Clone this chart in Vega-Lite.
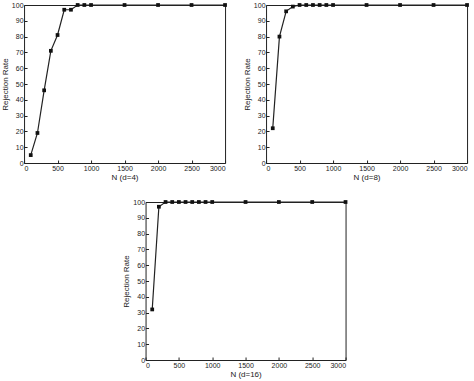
{
  "$schema": "https://vega.github.io/schema/vega-lite/v6.json",
  "padding": {"left": 0, "top": 0, "right": 0, "bottom": 0},
  "background": "white",
  "datasets": {
    "d4": [
      {"N": 100, "rate": 5}, {"N": 200, "rate": 19}, {"N": 300, "rate": 46}, {"N": 400, "rate": 71},
      {"N": 500, "rate": 81}, {"N": 600, "rate": 97}, {"N": 700, "rate": 97}, {"N": 800, "rate": 100},
      {"N": 900, "rate": 100}, {"N": 1000, "rate": 100}, {"N": 1500, "rate": 100}, {"N": 2000, "rate": 100},
      {"N": 2500, "rate": 100}, {"N": 3000, "rate": 100}
    ],
    "d8": [
      {"N": 100, "rate": 22}, {"N": 200, "rate": 80}, {"N": 300, "rate": 96}, {"N": 400, "rate": 99},
      {"N": 500, "rate": 100}, {"N": 600, "rate": 100}, {"N": 700, "rate": 100}, {"N": 800, "rate": 100},
      {"N": 900, "rate": 100}, {"N": 1000, "rate": 100}, {"N": 1500, "rate": 100}, {"N": 2000, "rate": 100},
      {"N": 2500, "rate": 100}, {"N": 3000, "rate": 100}
    ],
    "d16": [
      {"N": 100, "rate": 32}, {"N": 200, "rate": 97}, {"N": 300, "rate": 100}, {"N": 400, "rate": 100},
      {"N": 500, "rate": 100}, {"N": 600, "rate": 100}, {"N": 700, "rate": 100}, {"N": 800, "rate": 100},
      {"N": 900, "rate": 100}, {"N": 1000, "rate": 100}, {"N": 1500, "rate": 100}, {"N": 2000, "rate": 100},
      {"N": 2500, "rate": 100}, {"N": 3000, "rate": 100}
    ]
  },
  "config": {
    "view": {"stroke": "#222", "strokeWidth": 1},
    "font": "Liberation Sans",
    "axis": {
      "grid": false, "domain": false, "tickSize": -3, "tickColor": "#222",
      "labelFontSize": 7, "labelColor": "#222", "titleFontSize": 8, "titleFontWeight": "normal",
      "titleColor": "#222", "labelPadding": 4, "format": "d", "titlePadding": 2
    }
  },
  "vconcat": [
    {
      "hconcat": [
        {
          "width": 201, "height": 158,
          "data": {"name": "d4"},
          "layer": [
            {"mark": {"type": "line", "color": "#222", "strokeWidth": 1.2}},
            {"mark": {"type": "point", "shape": "square", "filled": true, "color": "#111", "size": 14, "opacity": 1}}
          ],
          "encoding": {
            "x": {"field": "N", "type": "quantitative", "title": "N (d=4)", "scale": {"domain": [0, 3000], "nice": false},
                  "axis": {"values": [0, 500, 1000, 1500, 2000, 2500, 3000]}},
            "y": {"field": "rate", "type": "quantitative", "title": "Rejection Rate", "scale": {"domain": [0, 100], "nice": false},
                  "axis": {"values": [0, 10, 20, 30, 40, 50, 60, 70, 80, 90, 100]}}
          }
        },
        {
          "width": 201, "height": 158,
          "data": {"name": "d8"},
          "layer": [
            {"mark": {"type": "line", "color": "#222", "strokeWidth": 1.2}},
            {"mark": {"type": "point", "shape": "square", "filled": true, "color": "#111", "size": 14, "opacity": 1}}
          ],
          "encoding": {
            "x": {"field": "N", "type": "quantitative", "title": "N (d=8)", "scale": {"domain": [0, 3000], "nice": false},
                  "axis": {"values": [0, 500, 1000, 1500, 2000, 2500, 3000]}},
            "y": {"field": "rate", "type": "quantitative", "title": "Rejection Rate", "scale": {"domain": [0, 100], "nice": false},
                  "axis": {"values": [0, 10, 20, 30, 40, 50, 60, 70, 80, 90, 100]}}
          }
        }
      ],
      "spacing": 14
    },
    {
      "width": 200, "height": 158,
      "data": {"name": "d16"},
      "layer": [
        {"mark": {"type": "line", "color": "#222", "strokeWidth": 1.2}},
        {"mark": {"type": "point", "shape": "square", "filled": true, "color": "#111", "size": 14, "opacity": 1}}
      ],
      "encoding": {
        "x": {"field": "N", "type": "quantitative", "title": "N (d=16)", "scale": {"domain": [0, 3000], "nice": false},
              "axis": {"values": [0, 500, 1000, 1500, 2000, 2500, 3000]}},
        "y": {"field": "rate", "type": "quantitative", "title": "Rejection Rate", "scale": {"domain": [0, 100], "nice": false},
              "axis": {"values": [0, 10, 20, 30, 40, 50, 60, 70, 80, 90, 100]}}
      }
    }
  ],
  "spacing": 15,
  "center": true
}
